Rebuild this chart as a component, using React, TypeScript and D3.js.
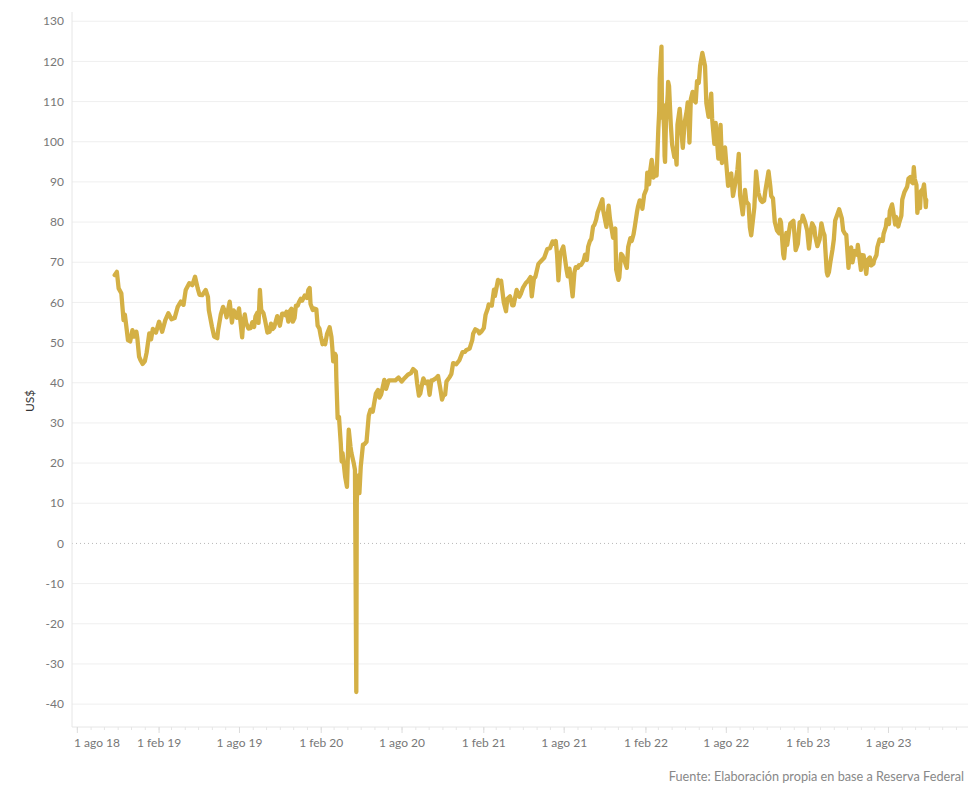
import React from "react";
import * as d3 from "d3";

// WTI daily price readings (US$), one array per year: [date, value]
const wti2018: [string, number][] = [
  ["2018-10-24", 66.8], ["2018-10-29", 67.6], ["2018-11-02", 63.5], ["2018-11-08", 62.3],
  ["2018-11-13", 55.6], ["2018-11-16", 57.0], ["2018-11-20", 53.4], ["2018-11-23", 50.6],
  ["2018-11-28", 50.3], ["2018-12-03", 53.1], ["2018-12-07", 51.5], ["2018-12-12", 52.7],
  ["2018-12-14", 51.2], ["2018-12-18", 46.5], ["2018-12-21", 45.7], ["2018-12-26", 44.7],
  ["2018-12-31", 45.4],
];
const wti2019: [string, number][] = [
  ["2019-01-04", 47.5], ["2019-01-10", 52.3], ["2019-01-14", 50.8], ["2019-01-18", 53.4],
  ["2019-01-25", 52.5], ["2019-02-01", 55.2], ["2019-02-08", 52.7], ["2019-02-15", 55.6],
  ["2019-02-22", 57.3], ["2019-03-01", 55.8], ["2019-03-08", 56.1], ["2019-03-15", 58.9],
  ["2019-03-22", 60.2], ["2019-03-28", 59.4], ["2019-04-02", 63.1], ["2019-04-10", 64.8],
  ["2019-04-17", 64.3], ["2019-04-23", 66.4], ["2019-04-29", 63.5], ["2019-05-03", 61.9],
  ["2019-05-09", 61.8], ["2019-05-17", 63.1], ["2019-05-22", 61.4], ["2019-05-24", 58.1],
  ["2019-05-31", 54.0], ["2019-06-05", 51.5], ["2019-06-12", 51.1], ["2019-06-14", 53.1],
  ["2019-06-20", 57.0], ["2019-06-25", 58.9], ["2019-07-01", 57.3], ["2019-07-03", 56.3],
  ["2019-07-10", 60.2], ["2019-07-15", 55.0], ["2019-07-19", 58.0], ["2019-07-26", 56.2],
  ["2019-07-31", 58.5], ["2019-08-07", 51.3], ["2019-08-09", 54.5], ["2019-08-13", 57.0],
  ["2019-08-16", 54.9], ["2019-08-21", 53.5], ["2019-08-26", 53.6], ["2019-08-30", 55.1],
  ["2019-09-03", 53.9], ["2019-09-06", 56.5], ["2019-09-10", 57.4], ["2019-09-13", 54.9],
  ["2019-09-16", 63.1], ["2019-09-19", 58.1], ["2019-09-24", 57.3], ["2019-09-27", 55.9],
  ["2019-10-03", 52.5], ["2019-10-08", 52.7], ["2019-10-11", 54.7], ["2019-10-15", 53.4],
  ["2019-10-18", 53.8], ["2019-10-25", 56.6], ["2019-10-31", 54.2], ["2019-11-05", 57.2],
  ["2019-11-08", 57.2], ["2019-11-12", 56.8], ["2019-11-15", 57.7], ["2019-11-19", 55.2],
  ["2019-11-22", 57.8], ["2019-11-26", 58.4], ["2019-11-29", 55.2], ["2019-12-03", 56.1],
  ["2019-12-06", 59.2], ["2019-12-10", 59.2], ["2019-12-13", 60.1], ["2019-12-17", 60.9],
  ["2019-12-20", 60.4], ["2019-12-26", 61.7], ["2019-12-31", 61.1],
];
const wti2020: [string, number][] = [
  ["2020-01-03", 63.1], ["2020-01-06", 63.6], ["2020-01-08", 59.6], ["2020-01-13", 58.1],
  ["2020-01-16", 58.5], ["2020-01-21", 58.3], ["2020-01-24", 54.2], ["2020-01-28", 53.5],
  ["2020-01-31", 51.6], ["2020-02-04", 49.6], ["2020-02-07", 50.3], ["2020-02-10", 49.6],
  ["2020-02-14", 52.1], ["2020-02-20", 53.8], ["2020-02-24", 51.4], ["2020-02-26", 48.7],
  ["2020-02-28", 45.3], ["2020-03-03", 47.2], ["2020-03-05", 46.8], ["2020-03-06", 41.3],
  ["2020-03-09", 31.1], ["2020-03-12", 31.5], ["2020-03-16", 25.0], ["2020-03-18", 20.4],
  ["2020-03-20", 22.5], ["2020-03-23", 19.5], ["2020-03-26", 16.5], ["2020-03-30", 14.1],
  ["2020-04-02", 25.3], ["2020-04-03", 28.3], ["2020-04-07", 24.0], ["2020-04-09", 22.5],
  ["2020-04-14", 20.1], ["2020-04-17", 18.3], ["2020-04-20", -37.0], ["2020-04-21", 10.0],
  ["2020-04-22", 13.8], ["2020-04-24", 16.9], ["2020-04-27", 12.5], ["2020-04-30", 19.1],
  ["2020-05-05", 24.6], ["2020-05-08", 24.7], ["2020-05-13", 25.3], ["2020-05-18", 31.8],
  ["2020-05-22", 33.3], ["2020-05-27", 32.8], ["2020-06-03", 37.3], ["2020-06-08", 38.2],
  ["2020-06-11", 36.3], ["2020-06-15", 37.1], ["2020-06-22", 40.7], ["2020-06-26", 38.5],
  ["2020-07-02", 40.6], ["2020-07-10", 40.6], ["2020-07-17", 40.6], ["2020-07-24", 41.3],
  ["2020-07-31", 40.3], ["2020-08-07", 41.2], ["2020-08-14", 42.0], ["2020-08-21", 42.4],
  ["2020-08-26", 43.4], ["2020-09-01", 42.8], ["2020-09-04", 39.8], ["2020-09-08", 36.8],
  ["2020-09-11", 37.3], ["2020-09-16", 40.2], ["2020-09-18", 41.1], ["2020-09-23", 39.9],
  ["2020-09-28", 40.3], ["2020-10-02", 37.0], ["2020-10-06", 40.6], ["2020-10-09", 40.6],
  ["2020-10-16", 41.1], ["2020-10-21", 41.7], ["2020-10-26", 38.6], ["2020-10-30", 35.8],
  ["2020-11-02", 36.8], ["2020-11-06", 37.1], ["2020-11-09", 40.3], ["2020-11-16", 41.4],
  ["2020-11-20", 42.2], ["2020-11-24", 44.9], ["2020-12-01", 44.6], ["2020-12-08", 45.6],
  ["2020-12-15", 47.6], ["2020-12-21", 47.7], ["2020-12-23", 48.1], ["2020-12-31", 48.5],
];
const wti2021: [string, number][] = [
  ["2021-01-06", 50.6], ["2021-01-08", 52.2], ["2021-01-13", 53.3], ["2021-01-19", 52.9],
  ["2021-01-22", 52.3], ["2021-01-27", 52.8], ["2021-02-01", 53.6], ["2021-02-05", 56.9],
  ["2021-02-10", 58.5], ["2021-02-12", 59.5], ["2021-02-19", 59.2], ["2021-02-24", 63.2],
  ["2021-02-26", 61.6], ["2021-03-05", 65.6], ["2021-03-08", 65.1], ["2021-03-12", 65.4],
  ["2021-03-18", 60.0], ["2021-03-23", 57.8], ["2021-03-26", 60.9], ["2021-04-01", 61.5],
  ["2021-04-06", 59.3], ["2021-04-09", 59.3], ["2021-04-16", 63.1], ["2021-04-22", 61.4],
  ["2021-04-26", 62.3], ["2021-04-30", 63.6], ["2021-05-07", 64.9], ["2021-05-11", 65.3],
  ["2021-05-17", 66.3], ["2021-05-20", 61.5], ["2021-05-25", 66.1], ["2021-05-28", 66.3],
  ["2021-06-04", 69.6], ["2021-06-10", 70.3], ["2021-06-17", 71.1], ["2021-06-24", 73.3],
  ["2021-06-30", 73.5], ["2021-07-06", 75.2], ["2021-07-09", 74.6], ["2021-07-13", 75.3],
  ["2021-07-16", 71.8], ["2021-07-19", 65.5], ["2021-07-23", 72.1], ["2021-07-30", 73.9],
  ["2021-08-06", 68.3], ["2021-08-09", 66.5], ["2021-08-13", 68.4], ["2021-08-20", 61.5],
  ["2021-08-24", 67.5], ["2021-08-27", 68.8], ["2021-09-01", 68.6], ["2021-09-03", 69.3],
  ["2021-09-08", 69.3], ["2021-09-10", 69.7], ["2021-09-14", 70.5], ["2021-09-17", 71.9],
  ["2021-09-21", 70.6], ["2021-09-24", 73.9], ["2021-09-28", 75.3], ["2021-10-01", 75.8],
  ["2021-10-05", 78.9], ["2021-10-08", 79.3], ["2021-10-12", 80.6], ["2021-10-15", 82.3],
  ["2021-10-20", 83.8], ["2021-10-26", 85.7], ["2021-10-28", 82.8], ["2021-11-04", 78.8],
  ["2021-11-09", 84.1], ["2021-11-12", 80.8], ["2021-11-19", 76.1], ["2021-11-24", 78.4],
  ["2021-11-26", 68.2], ["2021-12-01", 65.6], ["2021-12-03", 66.2], ["2021-12-07", 72.1],
  ["2021-12-10", 71.7], ["2021-12-14", 70.6], ["2021-12-20", 68.6], ["2021-12-23", 73.8],
  ["2021-12-28", 76.0], ["2021-12-31", 75.3],
];
const wti2022: [string, number][] = [
  ["2022-01-04", 76.9], ["2022-01-07", 78.9], ["2022-01-12", 82.6], ["2022-01-14", 83.8],
  ["2022-01-18", 85.4], ["2022-01-21", 85.1], ["2022-01-24", 83.3], ["2022-01-28", 86.8],
  ["2022-02-02", 88.2], ["2022-02-04", 92.3], ["2022-02-08", 89.4], ["2022-02-11", 93.1],
  ["2022-02-14", 95.5], ["2022-02-16", 93.7], ["2022-02-18", 91.1], ["2022-02-23", 92.1],
  ["2022-02-25", 91.6], ["2022-03-01", 103.4], ["2022-03-03", 107.7], ["2022-03-04", 115.7],
  ["2022-03-08", 123.7], ["2022-03-09", 108.7], ["2022-03-10", 106.0], ["2022-03-11", 109.3],
  ["2022-03-14", 103.0], ["2022-03-15", 96.4], ["2022-03-16", 95.0], ["2022-03-18", 104.7],
  ["2022-03-22", 111.8], ["2022-03-23", 114.9], ["2022-03-25", 113.9], ["2022-03-29", 104.2],
  ["2022-04-01", 99.3], ["2022-04-06", 96.2], ["2022-04-08", 98.3], ["2022-04-11", 94.3],
  ["2022-04-13", 104.3], ["2022-04-18", 108.2], ["2022-04-22", 102.1], ["2022-04-25", 98.5],
  ["2022-04-29", 104.7], ["2022-05-04", 107.8], ["2022-05-06", 109.8], ["2022-05-10", 99.8],
  ["2022-05-13", 110.5], ["2022-05-17", 112.4], ["2022-05-20", 110.3], ["2022-05-24", 109.8],
  ["2022-05-27", 115.1], ["2022-05-31", 114.7], ["2022-06-03", 118.9], ["2022-06-08", 122.1],
  ["2022-06-14", 118.9], ["2022-06-17", 109.6], ["2022-06-22", 106.2], ["2022-06-24", 107.6],
  ["2022-06-28", 112.0], ["2022-06-30", 105.8], ["2022-07-05", 99.5], ["2022-07-08", 104.7],
  ["2022-07-14", 95.8], ["2022-07-19", 104.2], ["2022-07-22", 94.7], ["2022-07-29", 98.6],
  ["2022-08-01", 94.4], ["2022-08-05", 89.0], ["2022-08-10", 91.9], ["2022-08-12", 92.1],
  ["2022-08-16", 86.5], ["2022-08-22", 90.2], ["2022-08-26", 93.1], ["2022-08-29", 97.0],
  ["2022-09-01", 86.6], ["2022-09-07", 81.9], ["2022-09-12", 88.0], ["2022-09-15", 85.1],
  ["2022-09-20", 84.4], ["2022-09-23", 78.7], ["2022-09-26", 76.7], ["2022-10-03", 83.6],
  ["2022-10-07", 92.6], ["2022-10-12", 87.3], ["2022-10-17", 85.5], ["2022-10-21", 85.0],
  ["2022-10-25", 85.3], ["2022-10-28", 87.9], ["2022-11-04", 92.6], ["2022-11-08", 88.9],
  ["2022-11-10", 86.5], ["2022-11-14", 85.9], ["2022-11-18", 80.1], ["2022-11-23", 77.9],
  ["2022-11-28", 77.2], ["2022-11-30", 80.6], ["2022-12-02", 79.9], ["2022-12-07", 72.0],
  ["2022-12-09", 71.0], ["2022-12-14", 77.3], ["2022-12-16", 74.3], ["2022-12-21", 78.3],
  ["2022-12-23", 79.6], ["2022-12-30", 80.3],
];
const wti2023: [string, number][] = [
  ["2023-01-04", 73.0], ["2023-01-09", 74.6], ["2023-01-13", 79.9], ["2023-01-18", 80.2],
  ["2023-01-20", 81.6], ["2023-01-25", 80.1], ["2023-01-30", 77.9], ["2023-02-03", 73.4],
  ["2023-02-08", 78.4], ["2023-02-10", 79.7], ["2023-02-15", 78.6], ["2023-02-17", 76.5],
  ["2023-02-22", 74.0], ["2023-02-27", 75.7], ["2023-03-03", 79.7], ["2023-03-07", 77.6],
  ["2023-03-10", 76.7], ["2023-03-15", 67.6], ["2023-03-17", 66.7], ["2023-03-20", 67.6],
  ["2023-03-23", 69.9], ["2023-03-28", 73.2], ["2023-03-31", 75.7], ["2023-04-03", 80.4],
  ["2023-04-12", 83.2], ["2023-04-18", 80.9], ["2023-04-21", 77.9], ["2023-04-25", 77.1],
  ["2023-04-28", 76.8], ["2023-05-03", 68.6], ["2023-05-05", 71.3], ["2023-05-09", 73.7],
  ["2023-05-12", 70.0], ["2023-05-17", 72.8], ["2023-05-22", 71.9], ["2023-05-24", 74.3],
  ["2023-05-31", 68.1], ["2023-06-02", 71.8], ["2023-06-06", 71.7], ["2023-06-12", 67.1],
  ["2023-06-15", 70.6], ["2023-06-20", 71.2], ["2023-06-23", 69.2], ["2023-06-28", 69.6],
  ["2023-06-30", 70.6], ["2023-07-05", 71.8], ["2023-07-07", 73.8], ["2023-07-12", 75.7],
  ["2023-07-14", 75.4], ["2023-07-19", 75.3], ["2023-07-21", 77.1], ["2023-07-26", 78.8],
  ["2023-07-28", 80.6], ["2023-08-02", 79.5], ["2023-08-04", 82.8], ["2023-08-09", 84.4],
  ["2023-08-11", 83.2], ["2023-08-16", 79.4], ["2023-08-18", 81.3], ["2023-08-23", 78.9],
  ["2023-08-25", 79.8], ["2023-08-30", 81.6], ["2023-09-01", 85.6], ["2023-09-06", 87.5],
  ["2023-09-12", 88.8], ["2023-09-15", 90.8], ["2023-09-19", 91.2], ["2023-09-22", 90.0],
  ["2023-09-25", 89.7], ["2023-09-27", 93.7], ["2023-09-29", 90.8], ["2023-10-03", 89.2],
  ["2023-10-05", 82.3], ["2023-10-09", 86.4], ["2023-10-11", 83.5], ["2023-10-13", 87.7],
  ["2023-10-18", 88.3], ["2023-10-20", 89.4], ["2023-10-23", 85.5], ["2023-10-24", 83.7],
  ["2023-10-25", 85.5],
];

const yTicks = [-40, -30, -20, -10, 0, 10, 20, 30, 40, 50, 60, 70, 80, 90, 100, 110, 120, 130];
const xTickDates = [
  "2018-08-01", "2019-02-01", "2019-08-01", "2020-02-01", "2020-08-01", "2021-02-01",
  "2021-08-01", "2022-02-01", "2022-08-01", "2023-02-01", "2023-08-01",
];
const xTickLabels = [
  "1 ago 18", "1 feb 19", "1 ago 19", "1 feb 20", "1 ago 20", "1 feb 21",
  "1 ago 21", "1 feb 22", "1 ago 22", "1 feb 23", "1 ago 23",
];
const yAxisTitle = "US$";
const sourceNote = "Fuente: Elaboración propia en base a Reserva Federal";

const W = 979;
const H = 799;
const left = 72;
const right = 968;
const top = 12;
const bottom = 727;
const FONT = "Lato, 'Open Sans', sans-serif";

export default function App() {
  const parse = d3.utcParse("%Y-%m-%d");
  const data = [...wti2018, ...wti2019, ...wti2020, ...wti2021, ...wti2022, ...wti2023].map(
    ([d, v]) => ({ date: parse(d) as Date, value: v })
  );

  const x = d3
    .scaleUtc()
    .domain([new Date(Date.UTC(2018, 6, 20)), new Date(Date.UTC(2024, 0, 27))])
    .range([left, right]);
  const y = d3.scaleLinear().domain([-45.7, 132.3]).range([bottom, top]);

  const line = d3
    .line<{ date: Date; value: number }>()
    .x((d) => x(d.date))
    .y((d) => y(d.value));

  const minorTicks = d3.utcMonth.range(x.domain()[0], x.domain()[1]);

  return (
    <svg
      width={W}
      height={H}
      style={{ position: "absolute", left: 0, top: 0, background: "#fff" }}
      fontFamily={FONT}
    >
      {yTicks.map((t) =>
        t === 0 ? null : (
          <line key={"g" + t} x1={left} x2={right} y1={y(t)} y2={y(t)} stroke="#efefef" strokeWidth={1} />
        )
      )}
      <line x1={left} x2={right} y1={y(0)} y2={y(0)} stroke="#b8b8b8" strokeWidth={1} strokeDasharray="1,3" />

      <line x1={left} x2={left} y1={top} y2={bottom} stroke="#e6e6e6" strokeWidth={1} />
      <line x1={left} x2={right} y1={bottom} y2={bottom} stroke="#e6e6e6" strokeWidth={1} />

      {minorTicks.map((d, i) => (
        <line key={"m" + i} x1={x(d)} x2={x(d)} y1={bottom} y2={bottom + 3} stroke="#e6e6e6" strokeWidth={1} />
      ))}
      {xTickDates.map((ds, i) => {
        const px = x(parse(ds) as Date);
        const first = i === 0;
        return (
          <g key={"x" + ds}>
            <line x1={px} x2={px} y1={bottom} y2={bottom + 6} stroke="#dcdcdc" strokeWidth={1} />
            <text
              x={first ? left + 2 : px}
              y={747}
              textAnchor={first ? "start" : "middle"}
              fontSize={12}
              fill="#777"
            >
              {xTickLabels[i]}
            </text>
          </g>
        );
      })}

      {yTicks.map((t) => (
        <text key={"y" + t} x={64} y={y(t)} dy="0.35em" textAnchor="end" fontSize={12} fill="#777">
          {t}
        </text>
      ))}

      <text
        transform={`translate(34, ${y(35.5)}) rotate(-90)`}
        textAnchor="middle"
        fontSize={12}
        fill="#333"
      >
        {yAxisTitle}
      </text>

      <path
        d={line(data) || ""}
        fill="none"
        stroke="#d4b045"
        strokeWidth={4.3}
        strokeLinejoin="round"
        strokeLinecap="round"
      />

      <text x={964} y={781} textAnchor="end" fontSize={12.7} fill="#888">
        {sourceNote}
      </text>
    </svg>
  );
}
